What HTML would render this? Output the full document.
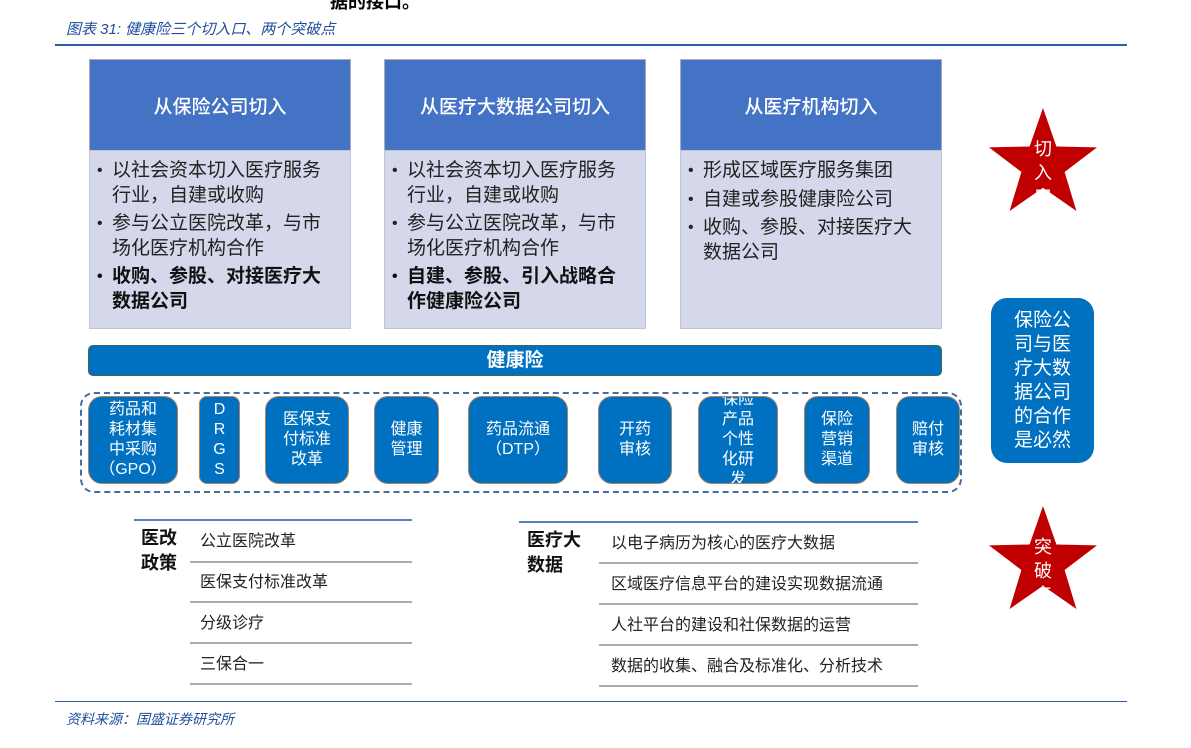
<!DOCTYPE html>
<html><head><meta charset="utf-8"><style>
body{margin:0;width:1191px;height:748px;background:#fff;position:relative;overflow:hidden;font-family:"Liberation Sans","Noto Sans CJK SC",sans-serif}
.a{position:absolute}
.hd{background:#4472C4;color:#fff;font-size:19px;font-weight:500;display:flex;align-items:center;justify-content:center;border:1px solid #aab}
.bd{background:#D4D8EA;border:1px solid #c0c4d4;font-size:19px;color:#222;line-height:24.5px;padding:8px 26px 0 22px;box-sizing:border-box}
.bd p{margin:0 0 4px 0;position:relative}
.bd p:before{content:"•";position:absolute;left:-15px;font-size:16px}
.b{font-weight:bold;color:#111}
.sb{background:#0070C0;border:1.5px solid #b08060;border-radius:14px;color:#fff;font-size:16px;line-height:20px;display:flex;align-items:center;justify-content:center;text-align:center;box-sizing:border-box;overflow:hidden}
.ln{position:absolute;height:2px;background:#a8acb8}
.t{position:absolute;font-size:16px;color:#222}
</style></head><body>
<div class="a" style="left:330px;top:-12px;font-size:18px;font-weight:bold">据的接口。</div>
<div class="a" style="left:66px;top:18px;font-size:15px;font-style:italic;color:#1F4E9E">图表 31:  健康险三个切入口、两个突破点</div>
<div class="a" style="left:55px;top:44px;width:1072px;height:2px;background:#2E5EA8"></div>

<div class="a hd" style="left:89px;top:59px;width:260px;height:90px">从保险公司切入</div>
<div class="a bd" style="left:89px;top:150px;width:262px;height:179px"><p>以社会资本切入医疗服务行业，自建或收购</p><p>参与公立医院改革，与市场化医疗机构合作</p><p class="b">收购、参股、对接医疗大数据公司</p></div>
<div class="a hd" style="left:384px;top:59px;width:260px;height:90px">从医疗大数据公司切入</div>
<div class="a bd" style="left:384px;top:150px;width:262px;height:179px"><p>以社会资本切入医疗服务行业，自建或收购</p><p>参与公立医院改革，与市场化医疗机构合作</p><p class="b">自建、参股、引入战略合作健康险公司</p></div>
<div class="a hd" style="left:680px;top:59px;width:260px;height:90px">从医疗机构切入</div>
<div class="a bd" style="left:680px;top:150px;width:262px;height:179px"><p>形成区域医疗服务集团</p><p>自建或参股健康险公司</p><p>收购、参股、对接医疗大数据公司</p></div>

<div class="a" style="left:88px;top:345px;width:852px;height:29px;background:#0070C0;border:1px solid #3a6a50;border-radius:5px;color:#fff;font-weight:bold;font-size:19px;text-align:center;line-height:29px">健康险</div>

<div class="a" style="left:80px;top:392px;width:878px;height:97px;border:2px dashed #4a6aa0;border-radius:14px"></div>
<div class="a sb" style="left:88px;top:396px;width:90px;height:88px">药品和<br>耗材集<br>中采购<br>（GPO）</div>
<div class="a sb" style="left:199px;top:396px;width:41px;height:88px;border-radius:8px">D<br>R<br>G<br>S</div>
<div class="a sb" style="left:265px;top:396px;width:84px;height:88px">医保支<br>付标准<br>改革</div>
<div class="a sb" style="left:374px;top:396px;width:65px;height:88px">健康<br>管理</div>
<div class="a sb" style="left:468px;top:396px;width:100px;height:88px">药品流通<br>（DTP）</div>
<div class="a sb" style="left:598px;top:396px;width:74px;height:88px">开药<br>审核</div>
<div class="a sb" style="left:698px;top:396px;width:80px;height:88px">保险<br>产品<br>个性<br>化研<br>发</div>
<div class="a sb" style="left:804px;top:396px;width:66px;height:88px">保险<br>营销<br>渠道</div>
<div class="a sb" style="left:896px;top:396px;width:64px;height:88px">赔付<br>审核</div>

<div class="a" style="left:991px;top:298px;width:103px;height:165px;background:#0070C0;border-radius:16px;color:#fff;font-size:19px;line-height:24px;display:flex;align-items:center;justify-content:center;text-align:center">保险公<br>司与医<br>疗大数<br>据公司<br>的合作<br>是必然</div>

<svg class="a" style="left:0;top:0" width="1191" height="748">
<polygon fill="#C00000" points="1043,108 1056.4,146.5 1097,147.4 1064.6,172 1076.4,211 1043,187.8 1009.6,211 1021.4,172 989,147.4 1029.6,146.5"/>
<polygon fill="#C00000" points="1043,506 1056.4,544.5 1097,545.4 1064.6,570 1076.4,609 1043,585.8 1009.6,609 1021.4,570 989,545.4 1029.6,544.5"/>
</svg>
<div class="a" style="left:1031px;top:137px;color:#fff;font-size:18px;line-height:24px;width:24px;text-align:center">切<br>入<br>口</div>
<div class="a" style="left:1031px;top:535px;color:#fff;font-size:18px;line-height:24px;width:24px;text-align:center">突<br>破<br>点</div>

<div class="ln" style="left:134px;top:519px;width:278px;background:#5a80c0"></div>
<div class="t" style="left:141px;top:526px;font-weight:bold;font-size:18px;line-height:25px;color:#111">医改<br>政策</div>
<div class="t" style="left:200px;top:527px">公立医院改革</div>
<div class="ln" style="left:190px;top:561px;width:222px"></div>
<div class="t" style="left:200px;top:568px">医保支付标准改革</div>
<div class="ln" style="left:190px;top:601px;width:222px"></div>
<div class="t" style="left:200px;top:609px">分级诊疗</div>
<div class="ln" style="left:190px;top:642px;width:222px"></div>
<div class="t" style="left:200px;top:650px">三保合一</div>
<div class="ln" style="left:190px;top:683px;width:222px"></div>

<div class="ln" style="left:519px;top:521px;width:399px;background:#5a80c0"></div>
<div class="t" style="left:527px;top:528px;font-weight:bold;font-size:18px;line-height:25px;color:#111">医疗大<br>数据</div>
<div class="t" style="left:611px;top:529px">以电子病历为核心的医疗大数据</div>
<div class="ln" style="left:599px;top:562px;width:319px"></div>
<div class="t" style="left:611px;top:570px">区域医疗信息平台的建设实现数据流通</div>
<div class="ln" style="left:599px;top:603px;width:319px"></div>
<div class="t" style="left:611px;top:611px">人社平台的建设和社保数据的运营</div>
<div class="ln" style="left:599px;top:644px;width:319px"></div>
<div class="t" style="left:611px;top:652px">数据的收集、融合及标准化、分析技术</div>
<div class="ln" style="left:599px;top:685px;width:319px"></div>

<div class="a" style="left:55px;top:701px;width:1072px;height:1px;background:#2E5EA8"></div>
<div class="a" style="left:66px;top:709px;font-size:14px;font-style:italic;color:#1F4E9E">资料来源：国盛证券研究所</div>
</body></html>
